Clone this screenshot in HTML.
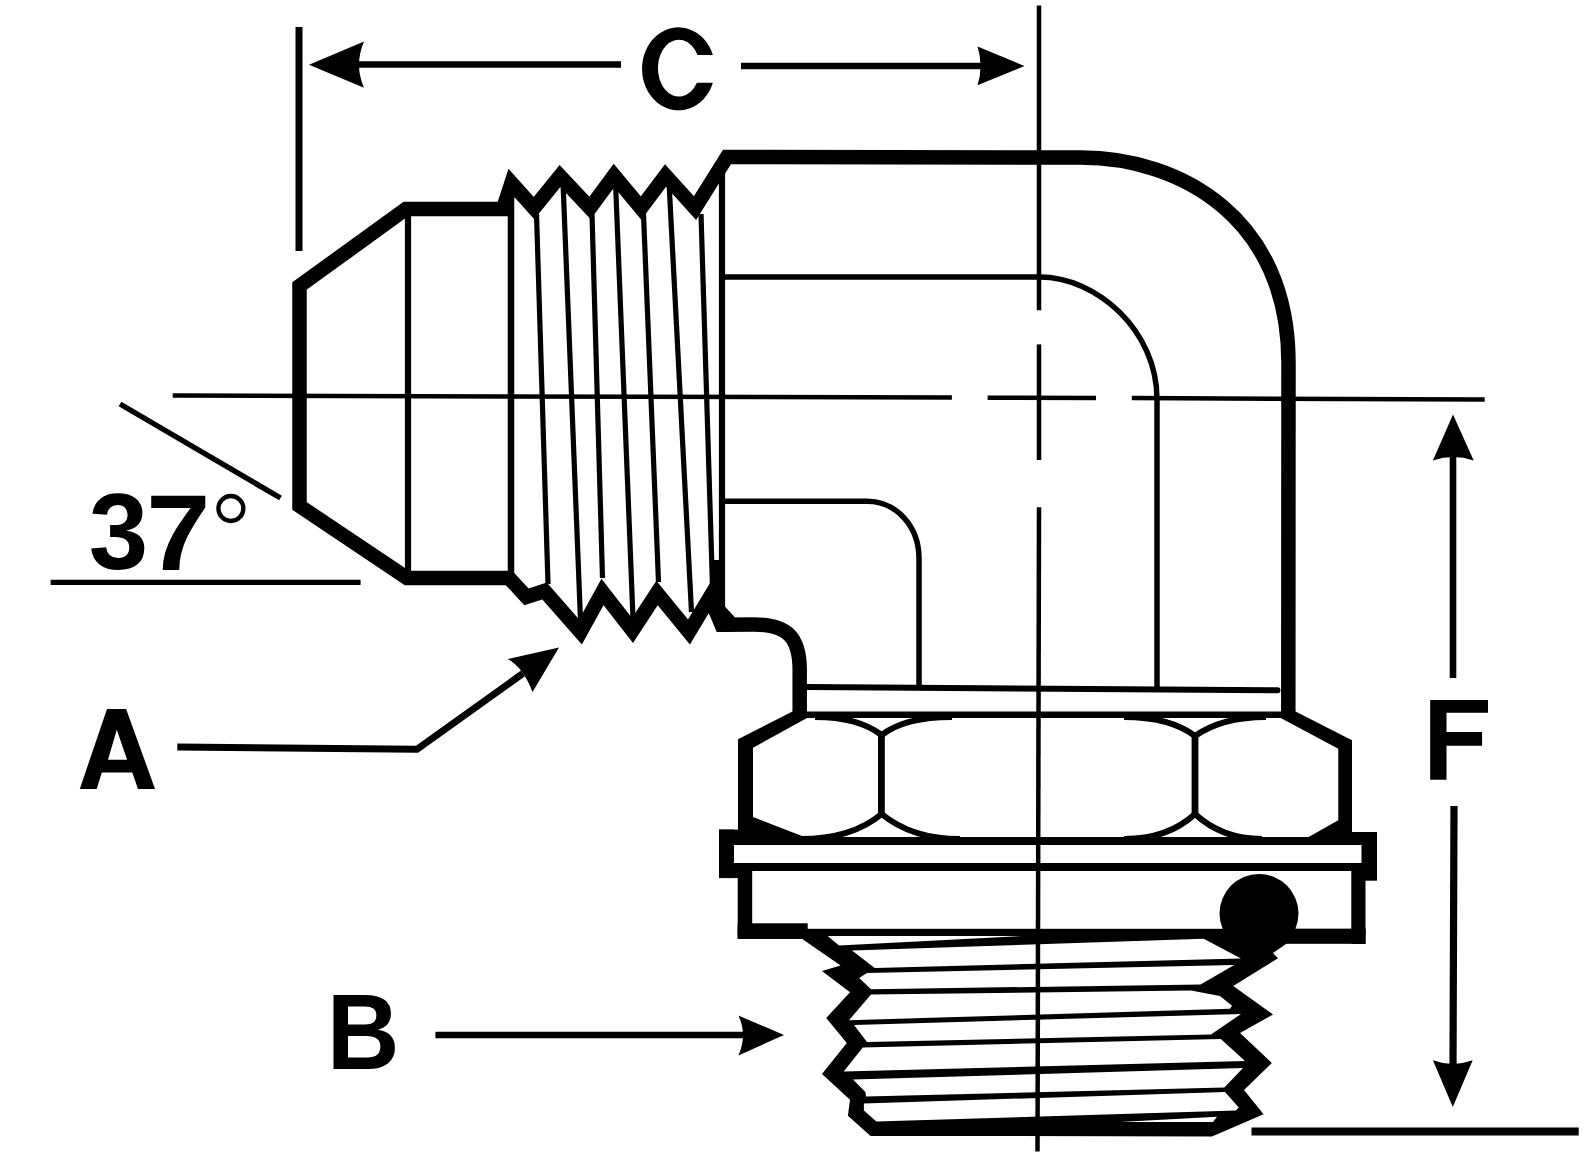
<!DOCTYPE html>
<html><head><meta charset="utf-8">
<style>
html,body{margin:0;padding:0;background:#fff;}
body{width:1596px;height:1162px;overflow:hidden;}
svg{display:block;}
text{font-family:"Liberation Sans",sans-serif;font-weight:bold;fill:#000;}
</style></head>
<body>
<svg width="1596" height="1162" viewBox="0 0 1596 1162">
<rect width="1596" height="1162" fill="#fff"/>
<g stroke="#000" fill="none" stroke-linecap="butt">
  <line x1="299" y1="27" x2="299" y2="251" stroke-width="7"/>
  <line x1="356" y1="64.5" x2="621" y2="64.5" stroke-width="6.7"/>
  <line x1="741" y1="66" x2="985" y2="66" stroke-width="6.5"/>
  <line x1="120" y1="404" x2="280.5" y2="498" stroke-width="5.5"/>
  <line x1="50.6" y1="582.3" x2="360.6" y2="582.3" stroke-width="5.3"/>
  <circle cx="230.9" cy="508.5" r="12.5" stroke-width="4.3"/>
  <polyline points="177.3,747 417,749.3 523,673.4" stroke-width="7" stroke-linejoin="miter"/>
  <line x1="435.4" y1="1035" x2="745" y2="1035" stroke-width="6.5"/>
  <line x1="1453" y1="455" x2="1453" y2="677.9" stroke-width="6.6"/>
  <line x1="1454" y1="806" x2="1453" y2="1065" stroke-width="7.2"/>
  <line x1="1251.5" y1="1131.5" x2="1578.7" y2="1131.5" stroke-width="8"/>
</g>
<g fill="#000">
  <path d="M309 64.7 L364 41.4 Q354 64.7 364 87.7 Z"/>
  <path d="M1024.5 66 L977.5 46.4 Q983.7 66 977.5 85.2 Z"/>
  <path d="M1453 414.4 L1432.9 460.4 Q1453 453.6 1473.7 460.4 Z"/>
  <path d="M1452.8 1107 L1432.9 1060.3 Q1452.8 1067.7 1472.7 1060.3 Z"/>
  <path d="M784 1035 L738.5 1015.6 Q747.5 1035 738.5 1055.4 Z"/>
  <path d="M559 647.5 L507.8 659 Q523.2 667.7 532.5 692 Z"/>
</g>
<g>
  <path fill="#000" fill-rule="evenodd" d="M712.9 54.9 A36.5 41.5 0 1 0 712.9 82.8 L696.9 82.8 A21 28.4 0 1 1 697.5 54.9 Z"/>
  <path fill="#000" fill-rule="evenodd" d="M107 708.9 L126.1 708.9 L155 788.9 L138 788.9 L132.3 772.6 L101.8 772.6 L96.7 788.9 L79.8 788.9 Z M116.8 729.8 L127.1 759.7 L108 759.7 Z"/>
  <text transform="translate(326.75,1068.9) scale(1.007,1.074)" font-size="100">B</text>
  <path fill="#000" d="M1430.2 699.9 H1488 V712.7 H1446.5 V732.1 H1482.1 V745.7 H1446.5 V779.8 H1430.2 Z"/>
  <text transform="translate(88.86,568.9) scale(1.068,1.079)" font-size="100">3</text>
  <text transform="translate(146.2,570.1) scale(1.153,1.079)" font-size="100">7</text>
</g>
<g fill="#000">
<rect x="719" y="829.6" width="15" height="48.5"/><rect x="733" y="870" width="5" height="8"/><rect x="719" y="829.6" width="22" height="8"/><rect x="1350" y="832" width="12" height="6"/>
<rect x="1361.5" y="832" width="15.5" height="48.7"/>
<rect x="719" y="837" width="658" height="8"/>
<rect x="719" y="863" width="658" height="8"/>
</g>
<rect x="1361.7" y="845" width="0" height="0" fill="#fff"/>
<g fill="#000">
<rect x="737.7" y="866" width="14.5" height="73"/>
<rect x="1351.3" y="866" width="14.2" height="78"/>
<rect x="737.7" y="928.8" width="627.8" height="6.7"/>
<rect x="737.7" y="923.3" width="70" height="15.7"/>
<rect x="1286" y="928.8" width="79.5" height="15"/>
</g>
<polygon fill="#000" points="803,930 803,939.6 840.6,965.5 822,971 850,992.3 826.2,1018 846.8,1043 822,1073.9 850,1099.7 847.9,1115.7 870.6,1135.9 1212,1136.4 1263.6,1114.2 1244,1090 1271.9,1063 1240,1033.1 1273,1014.5 1233.2,986 1278,958.2 1273,953 1286.4,943.8 1286.4,930"/>
<g fill="#fff">
<polygon points="827.7,936 1023,936 839,945.5"/>
<polygon points="852,950.5 1203.7,938.8 1241,958.6 874.7,968"/>
<polygon points="867,973 1234.2,965 1200.6,984.5 871,989.2 859.2,978"/>
<polygon points="871,994.5 1191,990.5 1220,995.9 1232,1005.7 1230,1008.8 849,1020.2"/>
<polygon points="854,1024.9 1241,1014 1211,1034.5 867,1041.9"/>
<polygon points="862.8,1047.5 1220.8,1039 1245,1061 843.7,1071.5"/>
<polygon points="853,1079.5 1243,1068 1224.4,1087.5 866,1096.5 865.4,1092"/>
<polygon points="863.9,1103.5 1225,1092 1238.8,1107.5 1236,1110.5 876.3,1121.5 863.9,1110.6"/>
<polygon points="1120,1122 1217,1116.8 1213,1122"/>
</g>
<circle cx="1259" cy="913.5" r="39.5" fill="#000"/>
<polygon fill="#000" points="792.4,711.5 738,739.2 738,838 1352,838 1352,740.3 1295.6,711.5"/>
<polygon fill="#fff" points="807,718 753,747.8 753,817 805.2,837.2 1304.2,839.4 1338.3,820.2 1338.3,748.8 1280.7,718"/>
<g stroke="#000" fill="none" stroke-width="6">
<line x1="881.4" y1="733" x2="881.4" y2="815" stroke-width="6.8"/>
<line x1="1195" y1="735" x2="1195" y2="815" stroke-width="6.8"/>
<path d="M815 717 Q858 717 881.6 735 Q905 717 952 717"/>
<path d="M1124 717 Q1170 717 1195 736 Q1222 717 1266 717"/>
<path d="M800 839 Q852 839 881.6 814 Q912 839 960 839"/>
<path d="M1124 839 Q1168 839 1195 814 Q1222 839 1262 839"/>
</g>
<rect x="734" y="837" width="627.7" height="8" fill="#000"/>
<path fill="none" stroke="#000" stroke-width="14.5" stroke-linejoin="miter" d="M799.7 716 L799.7 670 C799.7 638 788 624.5 754 624.5 L721.5 624.8 L710 597 L689 632 L657 593 L632.5 630.5 L602.5 592 L580.5 632 L544.5 591 L526.5 597 L509 578 L407 578 L299.5 506 L299.5 286 L405.9 209 L503 209 L511.5 183 L534 208 L560 176 L590 208 L614 175.5 L641 208 L665.5 175.5 L695 208 L727 157 L1080.5 157.5 C1181 157.5 1288.5 218.4 1288.5 362.8 L1288.3 716"/>
<polygon fill="#000" points="708.6,613 720.3,631.6 735,631.6 735,617.6 724.4,606 724.4,560 713,560"/>
<g stroke="#000" fill="none">
<line x1="722" y1="160" x2="722" y2="620" stroke-width="6.2"/>
<path d="M722 277 L1039.5 277 C1097 277 1157 330.6 1157 399 L1157 688" stroke-width="5.5"/>
<path d="M722 501.3 L866.7 501.3 C897.2 501.3 919 527.1 919 558.3 L919 688" stroke-width="5.5"/>
<line x1="807" y1="687" x2="1277.5" y2="690.3" stroke-width="6" stroke-linecap="round"/>
<line x1="408" y1="209" x2="408" y2="578" stroke-width="6.2"/>
<line x1="511" y1="196" x2="511" y2="578" stroke-width="6.5"/>
<g stroke-width="5.2">
<line x1="536.5" y1="214" x2="548" y2="584"/>
<line x1="563" y1="182" x2="580.5" y2="620"/>
<line x1="592" y1="214" x2="602.5" y2="578"/>
<line x1="615.5" y1="182" x2="633" y2="618"/>
<line x1="643.5" y1="214" x2="658.5" y2="582"/>
<line x1="669" y1="182" x2="691.5" y2="612"/>
<line x1="701" y1="214" x2="712.5" y2="586"/>
</g></g>
<g stroke="#000" stroke-width="4.5">
  <line x1="172.7" y1="395.6" x2="951.9" y2="397.6"/>
  <line x1="987.6" y1="397.7" x2="1096" y2="398"/>
  <line x1="1131.8" y1="398.1" x2="1484.7" y2="399.5"/>
  <line x1="1039" y1="5.6" x2="1039" y2="310.3"/>
  <line x1="1039" y1="344.4" x2="1039" y2="460"/>
  <line x1="1039" y1="507.3" x2="1037.5" y2="1151.5"/>
</g>
</svg>
</body></html>
